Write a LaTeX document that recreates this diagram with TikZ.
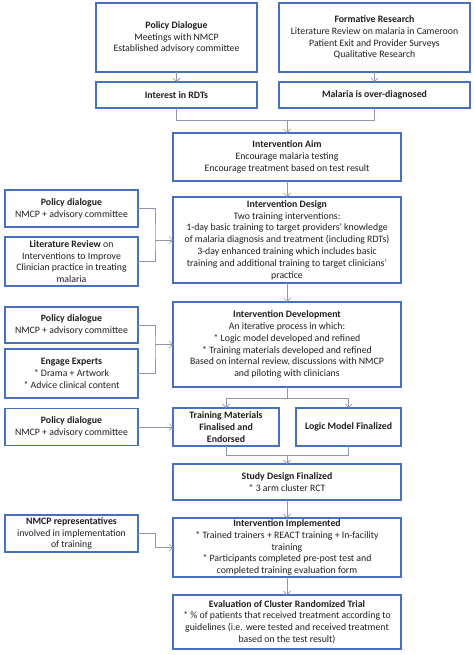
\documentclass[tikz,border=0pt]{standalone}
\usepackage{fontspec}
\setmainfont{Carlito}
\usetikzlibrary{arrows.meta}
\definecolor{boxblue}{RGB}{72,112,190}
\definecolor{linegray}{RGB}{140,150,172}
\definecolor{textgray}{RGB}{30,30,30}

\begin{document}
\begin{tikzpicture}[
    x = 1bp,
    y = -1bp,
    >={Straight Barb[length=3.5bp,width=7bp]},
    box/.style = {draw=boxblue, line width=1.3bp, align=center, text=textgray,
              inner sep=0pt, outer sep=0pt,
              font=\fontsize{9.8bp}{11.8bp}\selectfont},
    link/.style = {draw=linegray, line width=0.7bp},
    ]

\useasboundingbox (0,0) rectangle (474,655);

% top row
\node[box, minimum width=161bp, minimum height=69bp] (policy_top) at (176.5,37.5)
    {\textbf{Policy Dialogue}\\Meetings with NMCP\\Established advisory committee};
\node[box, minimum width=191bp, minimum height=69bp] (formative) at (374.5,37.5)
    {\textbf{Formative Research}\\Literature Review on malaria in Cameroon\\Patient Exit and Provider Surveys\\Qualitative Research};
\node[box, minimum width=161bp, minimum height=26bp] (rdt) at (176.5,95)
    {\textbf{Interest in RDTs}};
\node[box, minimum width=191bp, minimum height=26bp] (overdiag) at (374.5,95)
    {\textbf{Malaria is over-diagnosed}};

% main column
\node[box, minimum width=228bp, minimum height=48bp] (aim) at (287,157)
    {\textbf{Intervention Aim}\\Encourage malaria testing\\Encourage treatment  based on test result};
\node[box, minimum width=228bp, minimum height=86bp] (design) at (287,240)
    {\textbf{Intervention Design}\\Two training interventions:\\1-day basic training to target providers’ knowledge\\of malaria diagnosis and treatment (including RDTs)\\3-day enhanced training which includes basic\\training and additional training to target clinicians’\\practice};
\node[box, minimum width=228bp, minimum height=85bp] (develop) at (287,344.5)
    {\textbf{Intervention Development}\\An iterative process  in which:\\* Logic model developed and refined\\* Training materials developed and refined\\Based on internal review, discussions with  NMCP\\and piloting with clinicians};
\node[box, minimum width=106bp, minimum height=38bp] (train_mat) at (226,427)
    {\textbf{Training Materials}\\\textbf{Finalised and}\\\textbf{Endorsed}};
\node[box, minimum width=105bp, minimum height=38bp] (logic) at (348.5,427)
    {\textbf{Logic Model Finalized}};
\node[box, minimum width=228bp, minimum height=36bp] (study) at (287,482)
    {\textbf{Study Design Finalized}\\* 3 arm cluster RCT};
\node[box, minimum width=228bp, minimum height=59bp] (implem) at (287,547.5)
    {\textbf{Intervention Implemented}\\* Trained trainers + REACT training + In-facility\\training\\* Participants completed pre-post test and\\completed training evaluation form};
\node[box, minimum width=228bp, minimum height=54bp] (evaluation) at (287,622)
    {\textbf{Evaluation of Cluster Randomized Trial}\\* \% of patients that received treatment according to\\guidelines (i.e. were tested and received treatment\\based on the test result)};

% side column
\node[box, minimum width=133bp, minimum height=37bp] (policy_a) at (71.5,208.5)
    {\textbf{Policy dialogue}\\NMCP + advisory committee};
\node[box, minimum width=133bp, minimum height=49bp] (lit_rev) at (71.5,261.5)
    {\textbf{Literature Review} on\\Interventions to Improve\\Clinician practice in treating\\malaria};
\node[box, minimum width=133bp, minimum height=36bp] (policy_b) at (71.5,325)
    {\textbf{Policy dialogue}\\NMCP + advisory committee};
\node[box, minimum width=133bp, minimum height=49bp] (experts) at (71.5,373.5)
    {\textbf{Engage Experts}\\* Drama + Artwork\\* Advice clinical content};
\node[box, minimum width=133bp, minimum height=37bp] (policy_c) at (71.5,427)
    {\textbf{Policy dialogue}\\NMCP + advisory committee};
\node[box, minimum width=133bp, minimum height=37bp] (nmcp_rep) at (71.5,533.5)
    {\textbf{NMCP representatives}\\involved in implementation\\of training};

\coordinate (merge_top) at (287,120);
\coordinate (join_a) at (155,240);
\coordinate (join_b) at (155,344.5);
\coordinate (split_dev) at (287,398);
\coordinate (merge_fin) at (287,455);
\coordinate (join_c) at (155,547.5);

\draw [->, link] (policy_top) -- (rdt);
\draw [->, link] (formative) -- (overdiag);
\draw [link] (rdt.south) |- (merge_top);
\draw [link] (overdiag.south) |- (merge_top);
\draw [->, link] (merge_top) -- (aim.north);
\draw [->, link] (aim) -- (design);

\draw [link] (policy_a.east) -| (join_a) |- (lit_rev.east);
\draw [->, link] (join_a) -- (design.west);
\draw [->, link] (design) -- (develop);

\draw [link] (policy_b.east) -| (join_b) |- (experts.east);
\draw [->, link] (join_b) -- (develop.west);
\draw [link] (develop.south) -- (split_dev);
\draw [->, link] (split_dev) -| (train_mat.north);
\draw [->, link] (split_dev) -| (logic.north);
\draw [->, link] (policy_c) -- (train_mat);

\draw [link] (train_mat.south) |- (merge_fin);
\draw [link] (logic.south) |- (merge_fin);
\draw [->, link] (merge_fin) -- (study.north);
\draw [->, link] (study) -- (implem);

\draw [link] (nmcp_rep.east) -| (join_c);
\draw [->, link] (join_c) -- (implem.west);
\draw [->, link] (implem) -- (evaluation);

\end{tikzpicture}
\end{document}
